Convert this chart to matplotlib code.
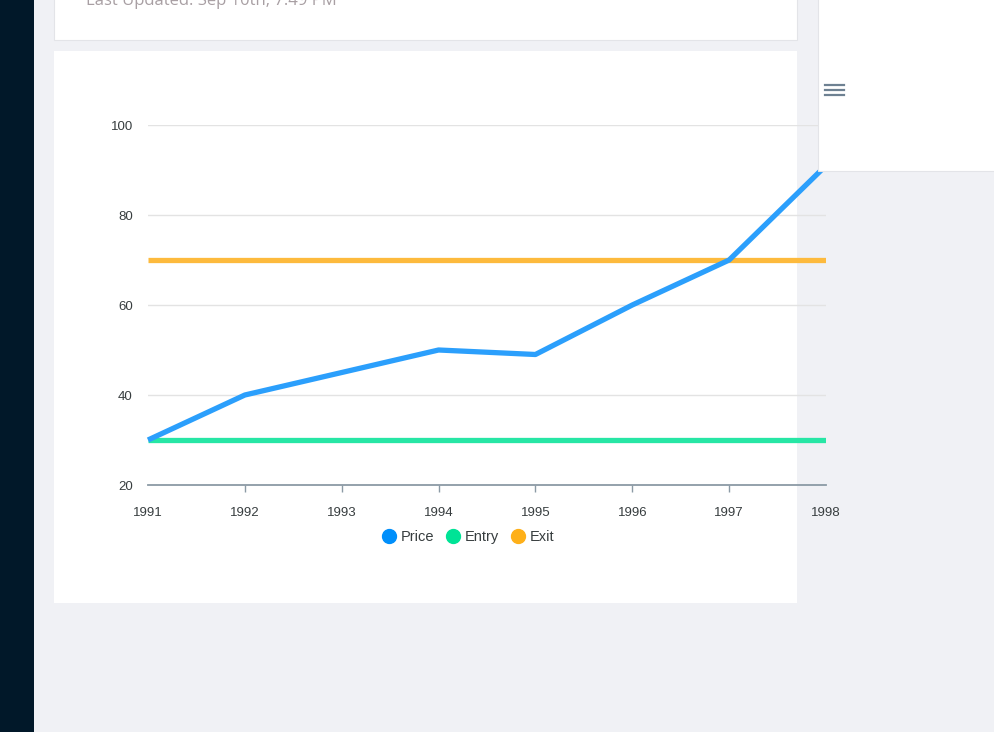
import matplotlib.pyplot as plt
from matplotlib.patches import Rectangle
from matplotlib.lines import Line2D

plt.rcParams['font.family'] = ['Liberation Sans', 'DejaVu Sans']

# data
years = [1991, 1992, 1993, 1994, 1995, 1996, 1997, 1998]
price = [30, 40, 45, 50, 49, 60, 70, 91]
entry = [30] * len(years)
exit_ = [70] * len(years)
y_ticks = [20, 40, 60, 80, 100]

W, H = 994, 732
fig = plt.figure(figsize=(W / 100, H / 100), dpi=100)
fig.patch.set_facecolor('#f0f1f5')


def box(x, y, w, h, fc, ec='none', z=-1, lw=0):
    # pixel box, origin top left
    r = Rectangle((x / W, 1 - (y + h) / H), w / W, h / H, transform=fig.transFigure,
                  facecolor=fc, edgecolor=ec, linewidth=lw, zorder=z)
    fig.patches.append(r)


# page layout
box(0, 0, 34, H, '#011829')
box(54, -5, 743, 45, 'white', ec='#e3e4e8', lw=0.8)
box(54, 51, 743, 552, 'white')
fig.text(86 / W, 1 - 1 / H, 'Last Updated: Sep 10th, 7:49 PM', fontsize=12,
         color='#a89fa3', family=['Open Sans', 'DejaVu Sans'], va='center', zorder=0)

ax = fig.add_axes([148 / W, 1 - 485 / H, 678 / W, 360 / H])
ax.set_facecolor('none')
ax.plot(years, entry, color='#27e6a5', lw=3.8, solid_capstyle='butt', zorder=3)
ax.plot(years, exit_, color='#fdba3d', lw=3.8, solid_capstyle='butt', zorder=3)
ax.plot(years, price, color='#2b9ffc', lw=3.8, solid_capstyle='butt', zorder=4, clip_on=False)

ax.set_xlim(years[0], years[-1])
ax.set_ylim(20, 100)
ax.set_yticks(y_ticks)
ax.set_xticks(years)
ax.set_xticklabels([str(y) for y in years])
for g in y_ticks[1:]:
    ax.axhline(g, color='#e3e3e3', lw=1, zorder=1)
for s in ['top', 'right', 'left']:
    ax.spines[s].set_visible(False)
ax.spines['bottom'].set_color('#8b9aa5')
ax.spines['bottom'].set_linewidth(1.3)
ax.tick_params(axis='y', length=0, pad=11, labelsize=9.5, labelcolor='#373d3f')
ax.tick_params(axis='x', length=5, width=1, color='#8b9aa5', direction='out',
               pad=11, labelsize=9.5, labelcolor='#373d3f')
xt = ax.xaxis.get_major_ticks()
xt[0].tick1line.set_visible(False)
xt[-1].tick1line.set_visible(False)

handles = [Line2D([], [], ls='none', marker='o', ms=10, color=c)
           for c in ['#008ffb', '#00e396', '#feb019']]
fig.legend(handles, ['Price', 'Entry', 'Exit'], loc='center', ncol=3, frameon=False,
           bbox_to_anchor=(468 / W, 1 - 537 / H), fontsize=10.5, handletextpad=0.3,
           columnspacing=0.8, handlelength=1.0, labelcolor='#373d3f')

# toolbar box over top right
box(818, -5, 181, 176, 'white', ec='#e3e4e8', z=10, lw=0.8)
for yy in [85, 90, 95]:
    fig.add_artist(Line2D([825 / W, 844 / W], [1 - yy / H] * 2, transform=fig.transFigure,
                          color='#6e8192', lw=1.6, zorder=11))

fig.savefig('out.png', dpi=100)
